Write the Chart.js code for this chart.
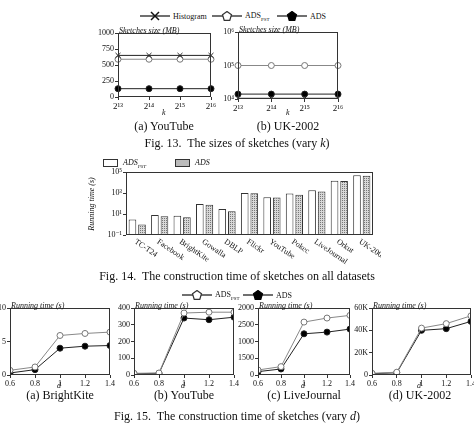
<!DOCTYPE html>
<html><head><meta charset="utf-8">
<script src="https://cdn.jsdelivr.net/npm/chart.js@4.4.0/dist/chart.umd.min.js"></script>
<style>
body{margin:0;width:474px;height:427px;background:#fff;position:relative;overflow:hidden;font-family:"Liberation Serif","DejaVu Serif",serif;color:#111}
.a{position:absolute;white-space:nowrap}
.c{position:absolute}
.t{font-style:italic;font-size:8px}
.cap{font-size:12px;transform:translateX(-50%)}
.leg{font-size:8px;display:flex;align-items:center}
</style></head><body>
<script>
// ---------- DATA ----------
const kLabels = ['2¹³','2¹⁴','2¹⁵','2¹⁶'];
const ytHist = [650,650,650,650];
const ytPst  = [590,590,590,590];
const ytAds  = [130,130,130,130];
const ukHist = [10500,10500,10500,10500];
const ukPst  = [100000,100000,100000,100000];
const ukAds  = [14000,14000,14000,14000];

const datasets14 = ['TC-T24','Facebook','BrightKite','Gowalla','DBLP','Flickr','YouTube','Pokec','LiveJournal','Orkut','UK-2002'];
const build14Pst = [3,8,7,90,30,1000,400,900,1800,15000,50000];
const build14Ads = [1,6,5,75,18,950,370,700,1400,14000,45000];

const dVals = [0.6,0.8,1,1.2,1.4];
const bkPst = [0.7,1.2,5.9,6.2,6.4];
const bkAds = [0.3,0.8,4.0,4.3,4.4];
const ytdPst = [10,12,370,375,375];
const ytdAds = [8,10,340,330,345];
const ljPst = [150,250,1580,1700,1780];
const ljAds = [100,180,1230,1280,1370];
const ukdPst = [1500,2500,42000,46000,53000];
const ukdAds = [1200,2000,40000,41500,48000];
const ljTickLabels = {0:'0',500:'1500',1000:'1000',1500:'2500',2000:'2000'};
// ---------------------------

Chart.defaults.font.family='"Liberation Serif","DejaVu Serif",serif';
Chart.defaults.font.size=8;
Chart.defaults.color='#111';
Chart.defaults.animation=false;

function el(cls,txt,x,y,extra){const d=document.createElement('div');d.className='a '+cls;d.innerHTML=txt;d.style.left=x+'px';d.style.top=y+'px';if(extra)Object.assign(d.style,extra);document.body.appendChild(d);return d;}

const boxPlugin={id:'box',afterDraw(c){const a=c.chartArea,x=c.ctx;x.save();x.strokeStyle='#333';x.lineWidth=1;x.strokeRect(a.left+.5,a.top+.5,a.right-a.left-1,a.bottom-a.top-1);x.restore();}};

function panel(l,t,w,h,yw,xh,cfg){
  const d=document.createElement('div');d.className='c';
  d.style.left=(l-yw)+'px';d.style.top=(t-6)+'px';d.style.width=(w+yw+8)+'px';d.style.height=(h+6+xh)+'px';
  const cv=document.createElement('canvas');d.appendChild(cv);document.body.appendChild(d);
  cfg.options=cfg.options||{};
  Object.assign(cfg.options,{responsive:true,maintainAspectRatio:false,layout:{padding:{top:6,right:8,left:0,bottom:0}}});
  cfg.options.plugins=Object.assign({legend:{display:false},tooltip:{enabled:false}},cfg.options.plugins||{});
  const s=cfg.options.scales;
  s.y.afterFit=sc=>{sc.width=yw};
  s.x.afterFit=sc=>{sc.height=xh};
  cfg.plugins=(cfg.plugins||[]).concat([boxPlugin]);
  return new Chart(cv,cfg);
}
function axis(o){return Object.assign({grid:{display:true,drawOnChartArea:false,tickLength:3,color:'#333'},border:{display:false},ticks:{padding:1,font:{size:8}}},o);}
const plain=v=>String(+Number(v).toFixed(1));
const sup={'-':'⁻','0':'⁰','1':'¹','2':'²','3':'³','4':'⁴','5':'⁵','6':'⁶'};
function pow10(v){const e=Math.round(Math.log10(v));return '10'+String(e).split('').map(ch=>sup[ch]).join('');}
function logAxis(min,max){return axis({type:'logarithmic',min:Math.pow(10,min),max:Math.pow(10,max),
  afterBuildTicks:sc=>{const t=[];for(let e=min;e<=max;e++)t.push({value:Math.pow(10,e)});sc.ticks=t;},
  ticks:{padding:1,font:{size:8},callback:v=>pow10(v)}});}

const pst={borderColor:'#888',backgroundColor:'#fff',pointBorderColor:'#777',pointRadius:3,pointBorderWidth:1,borderWidth:1,pointStyle:'circle'};
const ads={borderColor:'#222',backgroundColor:'#000',pointBackgroundColor:'#000',pointRadius:3,borderWidth:1,pointStyle:'circle'};
const hist={borderColor:'#222',pointBorderColor:'#222',pointRadius:3.5,borderWidth:1,pointStyle:'crossRot'};

function lineLeg(x,y,sym,label){
  const d=el('leg','',x,y);
  d.innerHTML='<svg width="30" height="10"><line x1="0" y1="5" x2="30" y2="5" stroke="#222" stroke-width="1.3"/>'+sym+'</svg><span style="margin-left:3px">'+label+'</span>';
}
const pent=(f,s)=>'<polygon points="15,0.5 19.5,3.8 17.8,9.3 12.2,9.3 10.5,3.8" fill="'+f+'" stroke="'+s+'" stroke-width="1.2"/>';
lineLeg(140,11,'<path d="M11,1 L19,9 M19,1 L11,9" stroke="#111" stroke-width="1.5"/>','Histogram');
lineLeg(212,11,pent('#fff','#333'),'ADS<sub style="font-size:5px">PST</sub>');
lineLeg(277,11,pent('#000','#000'),'ADS');

// (a) YouTube sizes
panel(118,33,93,64,22,14,{type:'line',data:{labels:kLabels,datasets:[
  Object.assign({data:ytHist},hist),Object.assign({data:ytPst},pst),Object.assign({data:ytAds},ads)]},
  options:{scales:{x:axis({offset:false,ticks:{padding:1,font:{size:9}}}),y:axis({min:0,max:1000,ticks:{stepSize:250,padding:1,font:{size:8},callback:plain}})}}});
el('t','Sketches size (MB)',119,26);
el('t','k',162,108);
el('cap','(a) YouTube',164,119);

// (b) UK-2002 sizes
panel(238,32,100,67,20,14,{type:'line',data:{labels:kLabels,datasets:[
  Object.assign({data:ukHist},hist),Object.assign({data:ukPst},pst),Object.assign({data:ukAds},ads)]},
  options:{scales:{x:axis({offset:false,ticks:{padding:1,font:{size:9}}}),y:logAxis(4,6)}}});
el('t','Sketches size (MB)',239,25);
el('t','k',286,108);
el('cap','(b) UK-2002',288,119);
el('cap','Fig. 13.&nbsp; The sizes of sketches (vary <i>k</i>)',237,136);

// ---- Fig 14 ----
const pc=document.createElement('canvas');pc.width=4;pc.height=4;const pg=pc.getContext('2d');
pg.fillStyle='#d8d8d8';pg.fillRect(0,0,4,4);pg.fillStyle='#777';pg.fillRect(0,0,1,1);pg.fillRect(2,2,1,1);pg.fillRect(2,0,1,1);pg.fillRect(0,2,1,1);
const hatch=document.createElement('canvas').getContext('2d').createPattern(pc,'repeat');
el('leg','<span style="display:inline-block;width:13px;height:6px;border:1px solid #333;background:#fff;margin-right:5px"></span><i>ADS<sub style="font-size:5px">PST</sub></i>',103,158);
el('leg','<span style="display:inline-block;width:13px;height:6px;border:1px solid #333;background:#bbb;margin-right:5px"></span><i>ADS</i>',175,158);
const slantPlugin={id:'slant',afterDraw(c){const sx=c.scales.x,x=c.ctx;x.save();x.font='8px "Liberation Serif",serif';x.fillStyle='#111';x.textAlign='left';x.textBaseline='middle';
  c.data.labels.forEach((lab,i)=>{const px=sx.getPixelForTick(i);x.save();x.translate(px-2,sx.top+6);x.rotate(Math.PI*0.19);x.fillText(lab,0,0);x.restore();});x.restore();}};
panel(126,172,247,63,26,38,{type:'bar',data:{labels:datasets14,datasets:[
  {data:build14Pst,backgroundColor:'#fff',borderColor:'#333',borderWidth:1,barPercentage:0.8,categoryPercentage:0.85},
  {data:build14Ads,backgroundColor:hatch,borderColor:'#333',borderWidth:1,barPercentage:0.8,categoryPercentage:0.85}]},
  options:{scales:{x:axis({grid:{display:false},ticks:{display:false}}),y:logAxis(-1,5)}},plugins:[slantPlugin]});
el('t','Running time (s)',91,204,{fontSize:'8px',transform:'translate(-50%,-50%) rotate(-90deg)'});
el('cap','Fig. 14.&nbsp; The construction time of sketches on all datasets',237,269);

// ---- Fig 15 ----
lineLeg(182,290,pent('#fff','#333'),'ADS<sub style="font-size:5px">PST</sub>');
lineLeg(243,290,pent('#000','#000'),'ADS');
function dPanel(l,w,yw,a,b,yopt,cap,cx){
  panel(l,308,w,67,yw,14,{type:'line',data:{datasets:[
    Object.assign({data:dVals.map((x,i)=>({x,y:a[i]}))},pst),Object.assign({data:dVals.map((x,i)=>({x,y:b[i]}))},ads)]},
    options:{scales:{x:axis({type:'linear',min:0.6,max:1.4,ticks:{stepSize:0.2,padding:1,font:{size:8},callback:plain}}),y:axis(yopt)}}});
  el('t','Running time (s)',l+1,301);
  el('t','d',cx-3,381);
  el('cap',cap,cx,388);
}
dPanel(10,100,14,bkPst,bkAds,{min:0,max:10,ticks:{stepSize:5,padding:1,font:{size:8},callback:plain}},'(a) BrightKite',60);
dPanel(134,100,22,ytdPst,ytdAds,{min:0,max:400,ticks:{stepSize:100,padding:1,font:{size:8},callback:plain}},'(b) YouTube',184);
dPanel(258,92,24,ljPst,ljAds,{min:0,max:2000,ticks:{stepSize:500,padding:1,font:{size:8},callback:v=>ljTickLabels[v]}},'(c) LiveJournal',304);
dPanel(372,99,22,ukdPst,ukdAds,{min:0,max:60000,ticks:{stepSize:20000,padding:1,font:{size:8},callback:v=>v===0?'0':(v/1000)+'K'}},'(d) UK-2002',420);
el('cap','Fig. 15.&nbsp; The construction time of sketches (vary <i>d</i>)',237,409);
</script>
</body></html>
